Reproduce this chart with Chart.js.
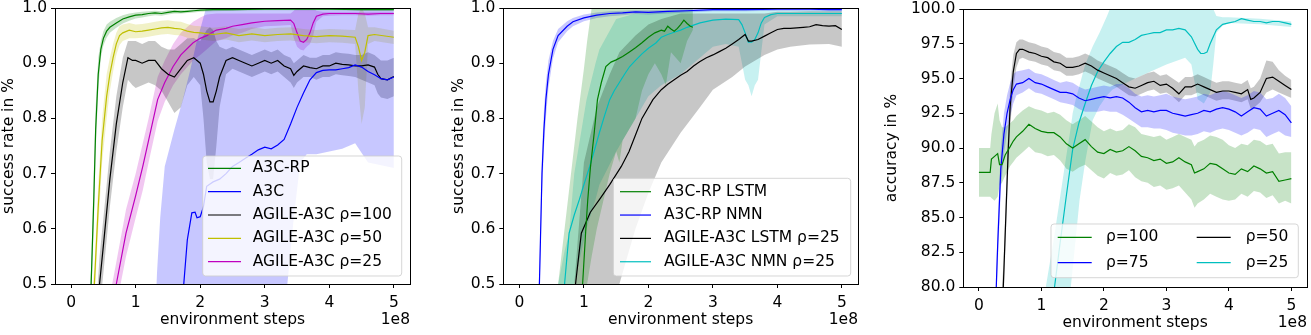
<!DOCTYPE html>
<html>
<head>
<meta charset="utf-8">
<script src="https://cdn.jsdelivr.net/npm/chart.js@4.4.1/dist/chart.umd.min.js"></script>
<style>
  body { margin: 0; background: #fff; }
  #wrap { position: relative; width: 1311px; height: 335px; }
  #wrap canvas { position: absolute; top: 0; }
</style>
</head>
<body>
<div id="wrap">
  <canvas id="c1" width="440" height="335" style="left:0px"></canvas>
  <canvas id="c2" width="440" height="335" style="left:440px"></canvas>
  <canvas id="c3" width="431" height="335" style="left:880px"></canvas>
</div>
<script>
// ---- shared ticks (x in units of 1e8 steps) ----
const xTicks = [0, 1, 2, 3, 4, 5];
const rateTicks = [0.5, 0.6, 0.7, 0.8, 0.9, 1.0];
const accTicks = [80, 82.5, 85, 87.5, 90, 92.5, 95, 97.5, 100];

// ---- panel 1 ----
const p1Labels = ['A3C-RP', 'A3C', 'AGILE-A3C ρ=100', 'AGILE-A3C ρ=50', 'AGILE-A3C ρ=25'];

const rpX    = [0.25,0.31,0.35,0.38,0.42,0.46,0.5,0.55,0.6,0.7,0.8,0.9,1.0,1.1,1.2,1.3,1.4,1.5,1.6,1.7,1.8,1.9,2.0,2.2,2.5,3.0,3.5,4.0,4.5,5.0];
const rpMean = [0.40,0.50,0.65,0.78,0.88,0.925,0.945,0.958,0.965,0.973,0.98,0.984,0.987,0.988,0.99,0.991,0.990,0.992,0.994,0.993,0.994,0.995,0.996,0.997,0.997,0.998,0.998,0.998,0.997,0.997];
const rpLo   = [0.38,0.47,0.60,0.74,0.85,0.91,0.932,0.946,0.955,0.964,0.972,0.977,0.981,0.983,0.985,0.987,0.986,0.988,0.99,0.99,0.991,0.992,0.993,0.994,0.995,0.996,0.996,0.996,0.995,0.995];
const rpHi   = [0.42,0.53,0.70,0.82,0.91,0.94,0.958,0.97,0.975,0.982,0.987,0.99,0.992,0.993,0.994,0.995,0.994,0.996,0.997,0.997,0.997,0.998,0.998,0.999,0.999,1.0,1.0,1.0,0.999,0.999];

const a3cX    = [1.7,1.745,1.8,1.87,1.92,1.95,2.0,2.05,2.1,2.2,2.3,2.4,2.5,2.6,2.7,2.8,2.9,3.0,3.1,3.2,3.3,3.4,3.5,3.6,3.7,3.8,3.9,4.0,4.1,4.2,4.3,4.4,4.5,4.6,4.7,4.8,4.9,5.0];
const a3cMean = [0.45,0.5,0.58,0.629,0.63,0.62,0.622,0.64,0.677,0.685,0.69,0.70,0.713,0.72,0.728,0.735,0.743,0.748,0.745,0.752,0.762,0.79,0.82,0.846,0.87,0.883,0.887,0.888,0.888,0.89,0.892,0.897,0.893,0.885,0.879,0.872,0.87,0.875];
const a3cBandX = [1.32,1.38,1.45,1.6,1.73,1.85,1.94,2.02,2.09,2.5,3.0,3.3,3.35,3.45,3.55,3.65,3.8,4.0,4.2,4.4,4.6,4.8,5.0];
const a3cLo    = [0.3,0.3,0.3,0.3,0.3,0.3,0.3,0.3,0.3,0.3,0.35,0.45,0.5,0.62,0.72,0.735,0.735,0.74,0.745,0.755,0.72,0.715,0.71];
const a3cHi    = [0.5,0.62,0.713,0.78,0.834,0.89,0.937,0.97,1.0,1.0,1.0,1.0,1.0,1.0,1.0,1.0,1.0,1.0,1.0,1.0,1.0,1.0,1.0];

const r100X    = [0.38,0.44,0.5,0.6,0.7,0.8,0.88,0.95,1.0,1.1,1.2,1.3,1.4,1.5,1.6,1.7,1.8,1.9,2.0,2.05,2.1,2.15,2.2,2.25,2.3,2.4,2.5,2.6,2.7,2.8,2.9,3.0,3.1,3.2,3.3,3.4,3.45,3.5,3.6,3.7,3.8,3.9,4.0,4.1,4.2,4.3,4.4,4.5,4.6,4.7,4.75,4.8,4.9,5.0];
const r100Mean = [0.40,0.50,0.57,0.69,0.79,0.865,0.91,0.905,0.905,0.90,0.905,0.905,0.89,0.88,0.875,0.89,0.905,0.91,0.90,0.88,0.85,0.83,0.83,0.85,0.875,0.905,0.91,0.905,0.90,0.895,0.90,0.905,0.90,0.905,0.895,0.89,0.878,0.885,0.895,0.892,0.89,0.895,0.895,0.90,0.898,0.897,0.895,0.895,0.897,0.893,0.88,0.872,0.87,0.876];
const r100Lo   = [0.36,0.45,0.52,0.64,0.74,0.82,0.87,0.86,0.855,0.86,0.865,0.86,0.85,0.83,0.81,0.82,0.86,0.875,0.86,0.80,0.72,0.69,0.69,0.75,0.82,0.88,0.89,0.885,0.88,0.875,0.88,0.885,0.88,0.885,0.875,0.865,0.855,0.865,0.875,0.875,0.87,0.875,0.875,0.88,0.878,0.877,0.875,0.87,0.865,0.86,0.845,0.838,0.835,0.84];
const r100Hi   = [0.44,0.55,0.62,0.74,0.84,0.91,0.94,0.94,0.94,0.935,0.94,0.94,0.93,0.925,0.925,0.935,0.945,0.945,0.94,0.95,0.96,0.965,0.96,0.94,0.93,0.925,0.93,0.925,0.92,0.915,0.92,0.925,0.92,0.925,0.915,0.91,0.9,0.905,0.915,0.91,0.91,0.915,0.915,0.92,0.918,0.917,0.915,0.915,0.92,0.915,0.91,0.905,0.905,0.91];

const r50X    = [0.3,0.36,0.42,0.48,0.55,0.6,0.65,0.7,0.75,0.8,0.9,1.0,1.1,1.2,1.3,1.4,1.5,1.6,1.7,1.8,1.9,2.0,2.2,2.4,2.6,2.8,3.0,3.2,3.4,3.6,3.8,4.0,4.2,4.4,4.45,4.5,4.55,4.6,4.7,5.0];
const r50Mean = [0.42,0.50,0.64,0.76,0.84,0.88,0.91,0.935,0.95,0.955,0.96,0.957,0.958,0.96,0.962,0.964,0.965,0.963,0.962,0.958,0.956,0.955,0.952,0.955,0.95,0.953,0.95,0.952,0.953,0.95,0.948,0.95,0.949,0.947,0.93,0.905,0.92,0.95,0.952,0.947];
const r50Lo   = [0.39,0.47,0.6,0.72,0.8,0.85,0.885,0.915,0.933,0.94,0.945,0.945,0.946,0.948,0.95,0.952,0.953,0.951,0.95,0.946,0.944,0.943,0.94,0.943,0.938,0.941,0.938,0.94,0.941,0.938,0.936,0.938,0.937,0.935,0.85,0.79,0.82,0.935,0.94,0.935];
const r50Hi   = [0.45,0.53,0.68,0.8,0.88,0.91,0.935,0.955,0.967,0.97,0.973,0.97,0.971,0.973,0.975,0.977,0.978,0.976,0.975,0.971,0.968,0.967,0.964,0.967,0.962,0.965,0.962,0.964,0.965,0.962,0.96,0.962,0.961,0.96,0.99,1.0,0.99,0.965,0.965,0.959];

const r25X    = [0.62,0.7,0.85,1.0,1.11,1.2,1.34,1.45,1.58,1.7,1.89,2.0,2.1,2.25,2.4,2.5,2.65,2.8,3.0,3.2,3.4,3.45,3.5,3.55,3.6,3.65,3.7,3.75,3.8,3.9,4.0,4.2,4.4,4.6,4.8,5.0];
const r25Mean = [0.45,0.5,0.592,0.66,0.713,0.76,0.834,0.865,0.894,0.915,0.937,0.945,0.95,0.96,0.963,0.967,0.97,0.973,0.976,0.977,0.978,0.972,0.955,0.94,0.938,0.943,0.955,0.973,0.985,0.989,0.99,0.99,0.99,0.989,0.99,0.99];
const r25Lo   = [0.41,0.46,0.55,0.62,0.67,0.72,0.795,0.83,0.86,0.88,0.905,0.915,0.925,0.94,0.945,0.95,0.955,0.962,0.967,0.968,0.969,0.945,0.93,0.925,0.923,0.93,0.935,0.95,0.975,0.985,0.986,0.987,0.987,0.986,0.987,0.987];
const r25Hi   = [0.49,0.54,0.635,0.7,0.755,0.8,0.875,0.905,0.935,0.955,0.975,0.983,0.988,0.99,0.99,0.99,0.99,0.99,0.99,0.99,0.99,0.995,1.0,1.0,1.0,1.0,1.0,1.0,0.995,0.993,0.993,0.993,0.993,0.993,0.993,0.993];

// ---- panel 2 ----
const p2Labels = ['A3C-RP LSTM', 'A3C-RP NMN', 'AGILE-A3C LSTM ρ=25', 'AGILE-A3C NMN ρ=25'];

const lstmX    = [0.93,0.98,1.03,1.06,1.1,1.16,1.21,1.27,1.34,1.42,1.5,1.6,1.7,1.8,1.9,2.0,2.1,2.2,2.25,2.3,2.35,2.4,2.45,2.5,2.55,2.6,2.65,2.69];
const lstmMean = [0.45,0.5,0.6,0.653,0.71,0.774,0.834,0.865,0.894,0.902,0.906,0.912,0.92,0.928,0.937,0.947,0.955,0.96,0.958,0.967,0.962,0.958,0.963,0.97,0.978,0.972,0.967,0.965];
const lstmBandX = [0.55,0.6,0.7,0.8,0.9,1.0,1.05,1.12,1.2,1.3,1.4,1.5,1.55,1.6,1.7,1.8,1.9,2.0,2.1,2.2,2.27,2.35,2.5,2.6,2.69];
const lstmLo    = [0.3,0.3,0.3,0.3,0.3,0.45,0.5,0.55,0.6,0.65,0.7,0.74,0.72,0.76,0.78,0.8,0.85,0.88,0.9,0.88,0.86,0.92,0.9,0.94,0.96];
const lstmHi    = [0.45,0.5,0.6,0.7,0.8,0.89,0.94,1.0,1.0,1.0,1.0,1.0,1.0,1.0,1.0,1.0,1.0,1.0,1.0,1.0,1.0,1.0,1.0,1.0,1.0];

const nmnX    = [0.27,0.31,0.35,0.38,0.41,0.45,0.52,0.6,0.74,0.83,1.0,1.2,1.4,1.6,1.8,2.0,2.3,2.6,3.0,3.5,4.0,4.5,4.8,5.0];
const nmnMean = [0.4,0.5,0.7,0.78,0.834,0.88,0.925,0.95,0.967,0.975,0.982,0.987,0.99,0.991,0.993,0.992,0.994,0.995,0.997,0.997,0.998,0.998,0.997,0.997];
const nmnLo   = [0.38,0.47,0.66,0.745,0.8,0.855,0.908,0.938,0.958,0.967,0.976,0.982,0.985,0.987,0.989,0.988,0.99,0.992,0.994,0.994,0.995,0.995,0.994,0.994];
const nmnHi   = [0.42,0.53,0.74,0.815,0.865,0.905,0.94,0.962,0.976,0.982,0.988,0.992,0.994,0.995,0.996,0.996,0.997,0.998,0.999,0.999,1.0,1.0,0.999,0.999];

const agLstmX    = [0.8,0.87,0.96,1.1,1.24,1.4,1.58,1.7,1.8,1.9,2.07,2.2,2.3,2.4,2.5,2.6,2.7,2.8,2.9,3.0,3.1,3.2,3.3,3.4,3.5,3.55,3.6,3.7,3.8,3.9,4.0,4.1,4.2,4.3,4.4,4.5,4.6,4.7,4.8,4.9,5.0];
const agLstmMean = [0.42,0.5,0.592,0.63,0.653,0.68,0.713,0.74,0.77,0.8,0.834,0.852,0.862,0.87,0.878,0.885,0.895,0.903,0.91,0.915,0.921,0.927,0.935,0.943,0.952,0.94,0.94,0.943,0.949,0.955,0.961,0.963,0.963,0.964,0.965,0.966,0.97,0.968,0.967,0.968,0.961];
const agLstmBandX = [0.6,0.85,1.0,1.2,1.4,1.55,1.8,2.0,2.2,2.5,2.8,3.0,3.3,3.5,3.8,4.0,4.2,4.5,4.8,5.0];
const agLstmLo    = [0.3,0.35,0.4,0.45,0.48,0.5,0.6,0.665,0.72,0.774,0.82,0.852,0.875,0.894,0.915,0.925,0.93,0.934,0.935,0.93];
const agLstmHi    = [0.4,0.5,0.72,0.82,0.88,0.92,0.95,0.97,0.98,0.99,0.99,0.99,0.99,0.99,0.99,0.993,0.993,0.994,0.994,0.994];

const agNmnX    = [0.65,0.7,0.77,0.85,0.93,1.0,1.09,1.17,1.24,1.32,1.4,1.47,1.55,1.63,1.71,1.8,1.9,2.0,2.12,2.2,2.3,2.4,2.5,2.6,2.7,2.8,3.0,3.2,3.4,3.45,3.5,3.55,3.6,3.65,3.7,3.75,3.8,3.9,4.0,5.0];
const agNmnMean = [0.46,0.5,0.592,0.625,0.653,0.68,0.713,0.745,0.774,0.805,0.834,0.85,0.865,0.88,0.894,0.905,0.917,0.927,0.937,0.947,0.952,0.956,0.96,0.965,0.969,0.973,0.978,0.98,0.979,0.97,0.955,0.938,0.938,0.943,0.955,0.973,0.983,0.988,0.99,0.99];
const agNmnBandX = [0.55,0.6,0.7,0.77,0.85,1.04,1.18,1.24,1.5,1.8,2.0,2.2,2.5,2.8,3.0,3.2,3.4,3.5,3.55,3.6,3.65,3.7,3.8,4.0,4.5,5.0];
const agNmnLo    = [0.3,0.35,0.4,0.45,0.5,0.6,0.653,0.68,0.74,0.8,0.84,0.86,0.88,0.91,0.93,0.935,0.93,0.87,0.86,0.84,0.86,0.87,0.97,0.985,0.985,0.985];
const agNmnHi    = [0.45,0.5,0.56,0.592,0.7,0.834,0.9,0.925,0.98,0.99,0.99,0.993,0.995,0.997,0.997,0.998,1.0,1.0,1.0,1.0,1.0,1.0,0.998,0.996,0.996,0.996];

// ---- panel 3 ----
const p3Labels = ['ρ=100', 'ρ=75', 'ρ=50', 'ρ=25'];

const k100X    = [0,0.18,0.2,0.25,0.3,0.33,0.37,0.42,0.5,0.55,0.6,0.7,0.8,0.9,1.0,1.1,1.2,1.3,1.4,1.5,1.6,1.7,1.8,1.9,2.0,2.1,2.2,2.3,2.4,2.5,2.6,2.7,2.8,2.9,3.0,3.1,3.2,3.3,3.4,3.45,3.5,3.6,3.7,3.8,3.9,4.0,4.1,4.2,4.3,4.4,4.5,4.6,4.7,4.8,4.9,5.0];
const k100Mean = [88.25,88.25,89.2,89.4,89.6,88.8,88.8,89.5,90.1,90.5,90.8,91.2,91.7,91.4,91.2,91.1,91.1,90.8,90.3,90.0,90.3,90.6,90.1,89.7,89.6,89.9,89.7,89.8,90.1,89.8,89.4,89.3,89.1,89.2,88.9,89.0,89.3,89.0,88.8,88.2,88.3,88.5,88.9,88.8,88.5,88.2,88.1,88.5,88.3,88.7,88.5,88.2,88.3,87.6,87.7,87.8];
const k100Lo   = [86.5,86.5,86.4,86.2,86.5,87.3,87.5,88.0,88.7,89.0,89.3,89.7,90.1,89.7,89.6,89.4,89.5,89.1,88.5,88.3,88.6,88.8,88.4,88.0,87.8,88.2,88.0,88.1,88.4,87.9,87.6,87.5,87.2,87.3,87.0,87.1,87.3,86.8,86.3,85.7,86.0,86.3,86.7,86.5,86.3,86.2,86.3,86.7,86.5,86.9,86.8,86.4,86.6,86.0,86.2,86.0];
const k100Hi   = [90.0,90.0,91.0,92.5,93.2,92.0,91.5,91.5,91.8,92.0,92.3,92.7,93.0,92.8,92.7,92.5,92.6,92.4,92.0,91.7,92.0,92.3,91.9,91.5,91.2,91.4,91.2,91.3,91.7,91.5,91.0,90.9,90.8,90.9,90.6,90.8,91.0,90.8,90.6,90.1,90.4,90.6,90.9,90.8,90.6,90.2,90.0,90.3,90.2,90.6,90.5,90.2,90.3,89.6,89.7,89.7];

const k75X    = [0.27,0.3,0.35,0.4,0.45,0.5,0.55,0.6,0.7,0.8,0.9,1.0,1.1,1.2,1.3,1.4,1.5,1.6,1.7,1.8,1.9,2.0,2.1,2.2,2.3,2.4,2.5,2.6,2.7,2.8,2.9,3.0,3.1,3.2,3.3,3.4,3.5,3.6,3.7,3.8,3.9,4.0,4.1,4.2,4.3,4.4,4.5,4.6,4.7,4.8,4.9,5.0];
const k75Mean = [79,83,88.5,91,92.5,93.5,94.2,94.6,94.7,95.0,94.7,94.6,94.4,94.2,94.0,94.0,93.9,93.6,93.4,93.5,93.6,93.7,93.6,93.7,93.6,93.3,92.9,92.6,92.7,92.6,92.7,92.7,92.5,92.4,92.3,92.4,92.5,92.7,92.6,92.8,92.9,92.8,92.6,92.3,92.6,92.9,92.8,92.3,92.5,92.7,92.4,91.8];
const k75Lo   = [78,81.5,87,89.5,91.2,92.3,93.2,93.8,94.0,94.3,94.0,93.9,93.7,93.5,93.3,93.2,93.1,92.8,92.6,92.6,92.6,92.7,92.6,92.6,92.4,92.1,91.8,91.5,91.5,91.4,91.4,91.3,91.1,91.0,90.9,90.9,91.0,91.2,91.1,91.3,91.4,91.3,91.1,90.9,91.1,91.4,91.3,90.8,91.0,91.2,90.9,90.8];
const k75Hi   = [80,84.5,90,92.5,93.8,94.7,95.3,95.5,95.6,95.7,95.4,95.3,95.1,94.9,94.7,94.8,94.7,94.4,94.2,94.3,94.4,94.5,94.4,94.6,94.6,94.3,93.9,93.7,93.8,93.7,93.8,93.9,93.7,93.6,93.5,93.6,93.7,93.9,93.8,94.0,94.1,94.0,93.8,93.6,93.8,94.1,94.0,93.5,93.6,93.9,93.6,93.0];

const k50X    = [0.36,0.39,0.43,0.47,0.5,0.55,0.6,0.65,0.7,0.8,0.9,1.0,1.1,1.2,1.3,1.4,1.5,1.6,1.7,1.8,1.9,2.0,2.1,2.2,2.3,2.4,2.5,2.6,2.7,2.8,2.9,3.0,3.1,3.2,3.3,3.4,3.5,3.6,3.7,3.8,3.9,4.0,4.1,4.2,4.3,4.35,4.4,4.5,4.6,4.7,4.8,4.9,5.0];
const k50Mean = [78,80,85,90,93,95.5,96.8,97.1,97.1,96.9,96.8,96.6,96.5,96.2,96.1,95.8,95.8,95.9,96.1,95.9,95.6,95.4,95.2,95.0,94.7,94.4,94.3,94.5,94.7,94.8,94.5,94.6,94.3,93.9,94.4,94.4,94.6,94.4,94.2,94.0,94.1,94.1,94.0,93.9,94.2,93.5,93.6,94.0,95.0,95.1,94.8,94.5,94.2];
const k50Lo   = [76.5,78.5,83.5,88.5,91.5,94.3,95.8,96.4,96.5,96.3,96.2,96.0,95.9,95.6,95.5,95.2,95.2,95.3,95.5,95.3,95.0,94.8,94.6,94.4,94.1,93.8,93.7,93.9,94.1,94.2,93.9,94.0,93.7,93.3,93.8,93.8,94.0,93.8,93.6,93.4,93.5,93.5,93.4,93.3,93.5,92.8,92.9,93.3,94.0,94.2,94.0,93.8,93.6];
const k50Hi   = [79.5,81.5,86.5,91.5,94.5,96.7,97.6,97.8,97.8,97.6,97.5,97.3,97.2,96.9,96.8,96.5,96.5,96.6,96.8,96.6,96.3,96.1,95.9,95.7,95.4,95.1,95.0,95.2,95.4,95.5,95.2,95.3,95.0,94.7,95.1,95.1,95.3,95.1,94.9,94.7,94.8,94.8,94.7,94.6,94.9,94.3,94.4,95.0,96.3,96.2,95.6,95.2,94.9];

const k25X    = [1.15,1.21,1.3,1.4,1.5,1.6,1.7,1.8,1.9,2.0,2.1,2.2,2.3,2.4,2.5,2.6,2.7,2.8,2.9,3.0,3.1,3.2,3.3,3.4,3.5,3.55,3.6,3.65,3.7,3.75,3.8,3.9,4.0,4.1,4.2,4.3,4.4,4.5,4.6,4.7,4.8,4.9,5.0];
const k25Mean = [78.5,80,83.2,86.6,89.9,91.8,93.2,94.5,95.5,96.2,96.8,97.3,97.6,97.6,97.8,98.1,98.2,98.3,98.3,98.5,98.5,98.6,98.5,98.0,97.1,96.8,96.8,96.9,97.5,98.0,98.5,98.9,99.0,99.1,99.3,99.2,99.1,99.1,99.0,99.1,99.1,99.0,98.9];
const k25BandX = [1.07,1.2,1.3,1.35,1.4,1.47,1.5,1.55,1.61,1.7,1.82,1.93,2.05,2.14,2.5,3.0,3.3,3.4,3.5,3.6,3.7,3.75,3.8,3.9,4.0,4.5,5.0];
const k25Lo    = [74,76,77.2,78,79,80,81.3,83.5,86.25,89,92,93,93.8,94.2,95,96,96.5,96,93.5,93.2,94,96,98.3,98.8,99,98.9,98.7];
const k25Hi    = [80,83.5,86.5,88,89.5,91.5,92.5,93.5,94.5,96,97.3,98.3,99.5,100.5,100.5,100.5,100.5,100.5,100.5,100.5,100.5,100,99.5,99.4,99.4,99.3,99.1];

// ---- styling ----
const FONT = { family: "'DejaVu Sans', sans-serif", size: 15.5 };
const GREEN = '#008000', BLUE = '#0000ff', BLACK = '#000000', YELLOW = '#bfbf00', MAGENTA = '#bf00bf', CYAN = '#00bfbf';

function rgba(hex, a) {
  const n = parseInt(hex.slice(1), 16);
  return `rgba(${(n >> 16) & 255}, ${(n >> 8) & 255}, ${n & 255}, ${a})`;
}
function pts(xs, ys) { return xs.map((x, i) => ({ x: x, y: ys[i] })); }

// bands first (pairs lo/hi, hi fills to lo), lines on top
function buildDatasets(series) {
  const bands = [], lines = [];
  series.forEach(s => {
    bands.push({ data: pts(s.bx, s.lo), borderWidth: 0, pointRadius: 0, fill: false, order: 1 });
    bands.push({ data: pts(s.bx, s.hi), borderWidth: 0, pointRadius: 0, fill: '-1',
                 backgroundColor: rgba(s.color, 0.22), order: 1 });
    lines.push({ data: pts(s.x, s.mean), borderColor: s.color, borderWidth: 1.2, pointRadius: 0,
                 tension: 0, fill: false, order: 0 });
  });
  return bands.concat(lines);
}

// matplotlib style legend box
const boxLegend = {
  id: 'boxLegend',
  afterDatasetsDraw(chart, args, o) {
    const ctx = chart.ctx;
    ctx.save();
    ctx.beginPath();
    ctx.roundRect(o.x, o.y, o.w, o.h, 3);
    ctx.fillStyle = 'rgba(255,255,255,0.8)';
    ctx.fill();
    ctx.strokeStyle = 'rgba(204,204,204,0.8)';
    ctx.lineWidth = 1;
    ctx.stroke();
    ctx.font = `${FONT.size}px ${FONT.family}`;
    ctx.textBaseline = 'middle';
    ctx.textAlign = 'left';
    o.items.forEach((it, i) => {
      const col = o.cols[Math.floor(i / o.perCol)];
      const y = o.row0 + (i % o.perCol) * o.rowH;
      ctx.strokeStyle = it.color;
      ctx.lineWidth = 1.2;
      ctx.beginPath();
      ctx.moveTo(col.hx, y);
      ctx.lineTo(col.hx + o.hw, y);
      ctx.stroke();
      ctx.fillStyle = '#000';
      ctx.fillText(it.label, col.tx, y);
    });
    ctx.restore();
  }
};

// full frame + x offset text
const frame = {
  id: 'frame',
  afterDraw(chart, args, o) {
    const { left, top, right, bottom } = chart.chartArea;
    const ctx = chart.ctx;
    ctx.save();
    ctx.strokeStyle = '#000';
    ctx.lineWidth = 1;
    ctx.strokeRect(Math.round(left) + 0.5, Math.round(top) + 0.5, Math.round(right - left), Math.round(bottom - top));
    ctx.fillStyle = '#000';
    ctx.font = `${FONT.size}px ${FONT.family}`;
    ctx.textAlign = 'right';
    ctx.textBaseline = 'middle';
    ctx.fillText('1e8', right, o.y);
    ctx.restore();
  }
};

function makeChart(id, datasets, p) {
  return new Chart(document.getElementById(id), {
    type: 'line',
    data: { datasets: datasets },
    plugins: [boxLegend, frame],
    options: {
      responsive: false,
      animation: false,
      layout: { padding: { top: p.top, right: p.right, left: 0, bottom: 0 } },
      plugins: {
        legend: { display: false },
        tooltip: { enabled: false },
        boxLegend: p.legend,
        frame: { y: p.offY }
      },
      scales: {
        x: {
          type: 'linear', min: -0.25, max: 5.25,
          afterBuildTicks: s => { s.ticks = xTicks.map(v => ({ value: v })); },
          afterFit: s => { s.height = p.xh; s.paddingLeft = 0; s.paddingRight = 0; },
          grid: { drawOnChartArea: false, drawTicks: true, tickLength: 4, color: '#000' },
          border: { display: true, color: '#000', width: 1 },
          ticks: { color: '#000', font: FONT, padding: p.xtkPad, maxRotation: 0, autoSkip: false,
                   callback: v => String(v) },
          title: { display: true, text: 'environment steps', color: '#000', font: FONT,
                   padding: { top: 0, bottom: p.xtPad } }
        },
        y: {
          type: 'linear', min: p.yMin, max: p.yMax,
          afterBuildTicks: s => { s.ticks = p.yTicks.map(v => ({ value: v })); },
          afterFit: s => { s.width = p.yw; s.paddingTop = 0; s.paddingBottom = 0; },
          grid: { drawOnChartArea: false, drawTicks: true, tickLength: 4, color: '#000' },
          border: { display: true, color: '#000', width: 1 },
          ticks: { color: '#000', font: FONT, padding: 4, autoSkip: false,
                   callback: v => v.toFixed(1) },
          title: { display: true, text: p.yTitle, color: '#000', font: FONT,
                   padding: { top: p.ytPad, bottom: 0 } }
        }
      }
    }
  });
}

const s1 = [
  { color: GREEN,   x: rpX,   mean: rpMean,   bx: rpX,      lo: rpLo,   hi: rpHi },
  { color: BLUE,    x: a3cX,  mean: a3cMean,  bx: a3cBandX, lo: a3cLo,  hi: a3cHi },
  { color: BLACK,   x: r100X, mean: r100Mean, bx: r100X,    lo: r100Lo, hi: r100Hi },
  { color: YELLOW,  x: r50X,  mean: r50Mean,  bx: r50X,     lo: r50Lo,  hi: r50Hi },
  { color: MAGENTA, x: r25X,  mean: r25Mean,  bx: r25X,     lo: r25Lo,  hi: r25Hi }
];
const s2 = [
  { color: GREEN, x: lstmX,   mean: lstmMean,   bx: lstmBandX,   lo: lstmLo,   hi: lstmHi },
  { color: BLUE,  x: nmnX,    mean: nmnMean,    bx: nmnX,        lo: nmnLo,    hi: nmnHi },
  { color: BLACK, x: agLstmX, mean: agLstmMean, bx: agLstmBandX, lo: agLstmLo, hi: agLstmHi },
  { color: CYAN,  x: agNmnX,  mean: agNmnMean,  bx: agNmnBandX,  lo: agNmnLo,  hi: agNmnHi }
];
const s3 = [
  { color: GREEN, x: k100X, mean: k100Mean, bx: k100X,    lo: k100Lo, hi: k100Hi },
  { color: BLUE,  x: k75X,  mean: k75Mean,  bx: k75X,     lo: k75Lo,  hi: k75Hi },
  { color: BLACK, x: k50X,  mean: k50Mean,  bx: k50X,     lo: k50Lo,  hi: k50Hi },
  { color: CYAN,  x: k25X,  mean: k25Mean,  bx: k25BandX, lo: k25Lo,  hi: k25Hi }
];

makeChart('c1', buildDatasets(s1), {
  top: 8, right: 30, yw: 55, xh: 51, ytPad: 0, xtPad: 5.7, xtkPad: 6, offY: 320,
  yMin: 0.5, yMax: 1.0, yTicks: rateTicks, yTitle: 'success rate in %',
  legend: { x: 202.7, y: 156, w: 199, h: 120, row0: 168.3, rowH: 23.35, perCol: 5, hw: 33,
            cols: [{ hx: 208, tx: 252.7 }],
            items: p1Labels.map((l, i) => ({ label: l, color: s1[i].color })) }
});
makeChart('c2', buildDatasets(s2), {
  top: 8, right: 22, yw: 63.3, xh: 51, ytPad: 9.3, xtPad: 5.7, xtkPad: 6, offY: 320,
  yMin: 0.5, yMax: 1.0, yTicks: rateTicks, yTitle: 'success rate in %',
  legend: { x: 173.3, y: 178.3, w: 237.4, h: 97.7, row0: 191.7, rowH: 23.35, perCol: 4, hw: 31,
            cols: [{ hx: 180, tx: 224 }],
            items: p2Labels.map((l, i) => ({ label: l, color: s2[i].color })) }
});
makeChart('c3', buildDatasets(s3), {
  top: 9, right: 4, yw: 83.3, xh: 48, ytPad: 2.3, xtPad: 2.7, xtkPad: 6, offY: 323,
  yMin: 80, yMax: 100, yTicks: accTicks, yTitle: 'accuracy in %',
  legend: { x: 171, y: 224, w: 247.3, h: 53.7, row0: 237.3, rowH: 25.4, perCol: 2, hw: 34,
            cols: [{ hx: 177.7, tx: 226 }, { hx: 316.7, tx: 365.7 }],
            items: p3Labels.map((l, i) => ({ label: l, color: s3[i].color })) }
});
</script>
</body>
</html>
